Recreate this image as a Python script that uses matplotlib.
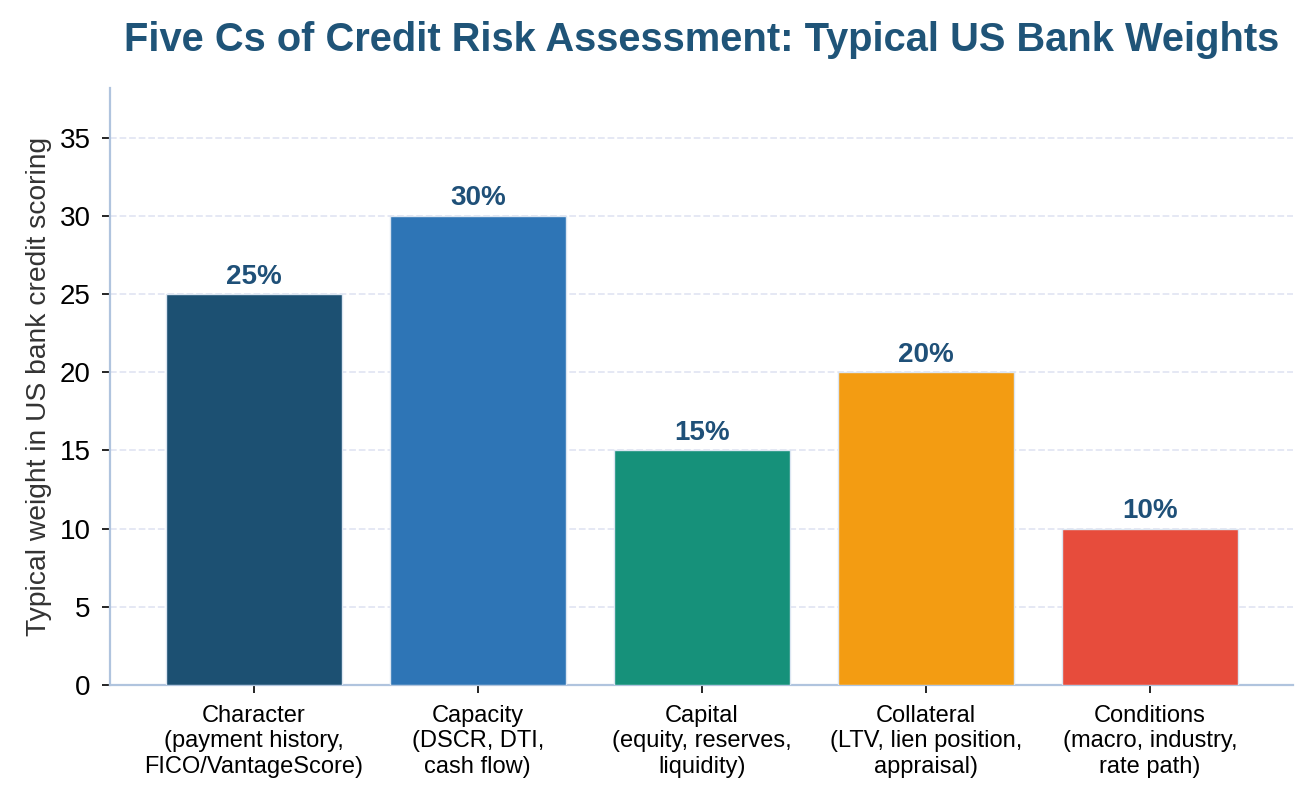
import matplotlib.pyplot as plt

plt.rcParams['font.family'] = ['Liberation Sans', 'DejaVu Sans']

categories = [
    "Character\n(payment history,\nFICO/VantageScore)",
    "Capacity\n(DSCR, DTI,\ncash flow)",
    "Capital\n(equity, reserves,\nliquidity)",
    "Collateral\n(LTV, lien position,\nappraisal)",
    "Conditions\n(macro, industry,\nrate path)",
]
weights = [25, 30, 15, 20, 10]
colors = ["#1c5072", "#2e75b6", "#16917a", "#f39c12", "#e74c3c"]

fig, ax = plt.subplots(figsize=(13.13, 8), dpi=100)
fig.subplots_adjust(left=0.084, right=0.985, bottom=0.144, top=0.89)

x = range(len(categories))
bars = ax.bar(x, weights, width=0.786, color=colors, edgecolor="#dce6f2",
              linewidth=1, zorder=3)

for b, v in zip(bars, weights):
    ax.text(b.get_x() + b.get_width() / 2, v + 0.3, f"{v}%",
            ha="center", va="bottom", fontsize=20, fontweight="bold",
            color="#1f5078", zorder=4)

ax.set_xticks(list(x))
ax.set_xticklabels(categories, fontsize=17)
ax.set_xlim(-0.64, 4.64)
ax.set_ylim(0, 38.2)
ax.set_yticks(range(0, 40, 5))
ax.tick_params(axis="y", labelsize=20, length=6, width=1.2, pad=8)
ax.tick_params(axis="x", length=6, width=1.2, pad=8.5)
ax.set_ylabel("Typical weight in US bank credit scoring", fontsize=20.3,
              color="#333333", labelpad=6)

ax.grid(axis="y", linestyle="--", color="#e3e6f3", linewidth=1.3, zorder=0)
for side in ["top", "right"]:
    ax.spines[side].set_visible(False)
for side in ["left", "bottom"]:
    ax.spines[side].set_color("#b0c4de")
    ax.spines[side].set_linewidth(1.6)

fig.suptitle("Five Cs of Credit Risk Assessment: Typical US Bank Weights",
             fontsize=28.7, fontweight="bold", color="#1f5478", x=0.534, y=0.974)

fig.savefig("out.png", dpi=100)
